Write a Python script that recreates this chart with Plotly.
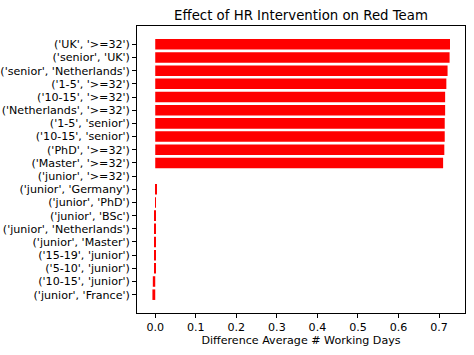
import plotly.graph_objects as go

categories = [
    "('UK', '>=32')", "('senior', 'UK')", "('senior', 'Netherlands')",
    "('1-5', '>=32')", "('10-15', '>=32')", "('Netherlands', '>=32')",
    "('1-5', 'senior')", "('10-15', 'senior')", "('PhD', '>=32')",
    "('Master', '>=32')", "('junior', '>=32')", "('junior', 'Germany')",
    "('junior', 'PhD')", "('junior', 'BSc')", "('junior', 'Netherlands')",
    "('junior', 'Master')", "('15-19', 'junior')", "('5-10', 'junior')",
    "('10-15', 'junior')", "('junior', 'France')",
]
values = [
    0.727, 0.726, 0.721, 0.718, 0.715, 0.715, 0.714, 0.714, 0.713, 0.710,
    0.0, 0.002, 0.0005, -0.001, -0.002, -0.002, -0.003, -0.003, -0.006, -0.007,
]
x_ticks = [0.0, 0.1, 0.2, 0.3, 0.4, 0.5, 0.6, 0.7]
x_tick_labels = ["0.0", "0.1", "0.2", "0.3", "0.4", "0.5", "0.6", "0.7"]

FONT = "DejaVu Sans"

fig = go.Figure(go.Bar(
    x=values, y=categories, orientation="h",
    marker=dict(color="#ff0000", line=dict(width=0)),
    width=0.8,
))

fig.update_layout(
    width=474, height=355,
    margin=dict(l=137, r=9, t=26, b=42),
    paper_bgcolor="white", plot_bgcolor="white",
    font=dict(family=FONT, size=11.1, color="black"),
    showlegend=False,
    title=dict(text="Effect of HR Intervention on Red Team",
               x=(137 + 465) / 2 / 474, xanchor="center",
               y=1 - 15 / 355, yanchor="middle",
               font=dict(family=FONT, size=13.3, color="black")),
    xaxis=dict(
        range=[-0.045, 0.764],
        tickvals=x_ticks, ticktext=x_tick_labels,
        showgrid=False, zeroline=False, automargin=False,
        showline=True, linecolor="black", linewidth=0.9, mirror=True,
        ticks="outside", ticklen=3.9, tickwidth=0.9, tickcolor="black",
        tickfont=dict(family=FONT, size=11.1, color="black"),
        title=dict(text="Difference Average # Working Days",
                   font=dict(family=FONT, size=11.1, color="black"),
                   standoff=3),
    ),
    yaxis=dict(
        type="category",
        categoryorder="array", categoryarray=categories,
        range=[len(categories) - 1 + 1.39, -1.39],
        showgrid=False, zeroline=False, automargin=False,
        showline=True, linecolor="black", linewidth=0.9, mirror=True,
        ticks="outside", ticklen=3.9, tickwidth=0.9, tickcolor="black",
        tickfont=dict(family=FONT, size=11.1, color="black"),
    ),
)

fig.write_html(
    "out.html",
    config={"displayModeBar": False},
    post_script="document.body.style.margin='0';document.body.style.overflow='hidden';",
)
